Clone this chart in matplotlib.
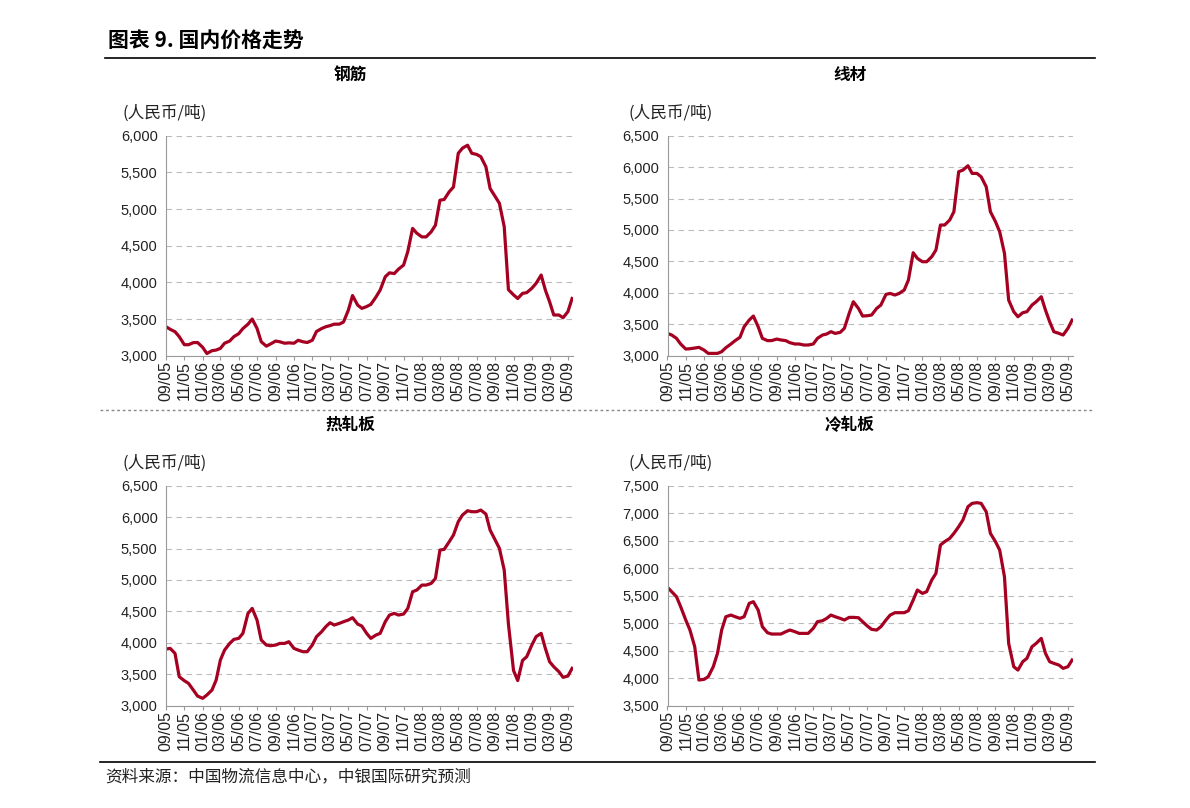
import pandas as pd
import numpy as np
import matplotlib
matplotlib.use('Agg')
import matplotlib.pyplot as plt
from matplotlib.lines import Line2D

plt.rcParams['font.family'] = ['Liberation Sans', 'Noto Sans CJK SC', 'DejaVu Sans']
CJK = ['Noto Sans CJK SC', 'DejaVu Sans']

# half-month sample dates, Sep 2005 .. May 2009
dates = pd.date_range('2005-09-01', '2009-05-15', freq='SMS')

# 钢筋
rebar = [3395, 3360, 3327, 3260, 3150, 3150, 3178, 3180, 3115, 3030,
         3068, 3077, 3100, 3170, 3200, 3260, 3300, 3370, 3430, 3500,
         3373, 3190, 3130, 3160, 3200, 3190, 3170, 3175, 3170, 3210,
         3190, 3180, 3210, 3330, 3370, 3395, 3410, 3430, 3430, 3460,
         3620, 3820, 3690, 3645, 3670, 3700, 3800, 3895, 4077, 4130,
         4120, 4180, 4236, 4420, 4736, 4670, 4620, 4620, 4690, 4780,
         5120, 5130, 5236, 5300, 5760, 5830, 5870, 5760, 5745, 5714,
         5577, 5280, 5170, 5077, 4760, 3900, 3830, 3780, 3850, 3860,
         3920, 3986, 4100, 3895, 3736, 3555, 3555, 3518, 3600, 3780]

# 线材
wire = [3355, 3329, 3276, 3186, 3106, 3111, 3122, 3133, 3090, 3037,
        3037, 3037, 3064, 3127, 3186, 3240, 3292, 3460, 3567, 3631,
        3460, 3276, 3240, 3240, 3265, 3250, 3240, 3207, 3186, 3186,
        3170, 3170, 3186, 3276, 3329, 3345, 3382, 3355, 3371, 3435,
        3673, 3859, 3753, 3631, 3636, 3647, 3753, 3806, 3975, 3991,
        3965, 3991, 4045, 4204, 4638, 4548, 4495, 4495, 4575, 4681,
        5079, 5079, 5158, 5291, 5927, 5953, 6022, 5900, 5900, 5847,
        5688, 5291, 5132, 4972, 4628, 3885, 3700, 3620, 3684, 3700,
        3806, 3859, 3938, 3726, 3541, 3382, 3355, 3329, 3435, 3567]

# 热轧板
hot_rolled = [3901, 3912, 3832, 3461, 3398, 3355, 3249, 3154, 3117, 3170,
              3249, 3408, 3726, 3885, 3991, 4055, 4071, 4151, 4469, 4548,
              4363, 4045, 3965, 3954, 3965, 3991, 3991, 4018, 3912, 3885,
              3859, 3859, 3965, 4098, 4177, 4257, 4320, 4283, 4310, 4336,
              4363, 4400, 4299, 4267, 4151, 4071, 4124, 4151, 4336, 4442,
              4469, 4442, 4458, 4548, 4813, 4840, 4919, 4919, 4946, 5025,
              5476, 5487, 5609, 5715, 5927, 6033, 6102, 6086, 6086, 6112,
              6049, 5794, 5635, 5503, 5158, 4300, 3560, 3400, 3720, 3780,
              3965, 4098, 4151, 3912, 3700, 3620, 3541, 3451, 3472, 3594]

# 冷轧板
cold_rolled = [5652, 5573, 5482, 5300, 5058, 4876, 4573, 3967, 3979, 4027,
               4209, 4452, 4876, 5118, 5148, 5118, 5088, 5118, 5361, 5391,
               5239, 4936, 4827, 4803, 4803, 4803, 4845, 4876, 4845, 4815,
               4815, 4815, 4906, 5027, 5045, 5088, 5148, 5118, 5088, 5058,
               5106, 5106, 5100, 5027, 4948, 4888, 4876, 4936, 5058, 5148,
               5191, 5191, 5191, 5227, 5421, 5603, 5542, 5573, 5785, 5906,
               6421, 6482, 6542, 6633, 6755, 6876, 7118, 7179, 7191, 7179,
               7027, 6633, 6482, 6330, 5845, 4633, 4209, 4148, 4300, 4361,
               4573, 4633, 4724, 4452, 4300, 4270, 4239, 4179, 4209, 4330]

titles = ['钢筋', '线材', '热轧板', '冷轧板']
series = [rebar, wire, hot_rolled, cold_rolled]
y_ranges = [(3000, 6000), (3000, 6500), (3000, 6500), (3500, 7500)]

tick_dates = pd.date_range('2005-09-01', '2009-05-01', freq='2MS')

W, H = 1190, 808
fig = plt.figure(figsize=(W / 100, H / 100), dpi=100)

# axes rectangles in pixels: left, top, right, bottom
rects = [(166, 135.7, 573, 355.7), (667.5, 135.7, 1073, 355.7),
         (166, 485.7, 573, 705.7), (667.5, 485.7, 1073, 705.7)]
red = '#A50021'

for i, (title, vals, (y0, y1), r) in enumerate(zip(titles, series, y_ranges, rects)):
    l, t, rr, b = r
    ax = fig.add_axes([l / W, 1 - b / H, (rr - l) / W, (b - t) / H])
    ax.plot(dates, vals, color=red, lw=2.3, solid_joinstyle='round')
    ax.set_xlim(pd.Timestamp('2005-09-01'), pd.Timestamp('2009-05-18'))
    ax.set_ylim(y0, y1)
    ax.set_yticks(np.arange(y0, y1 + 1, 500))
    ax.yaxis.set_major_formatter(matplotlib.ticker.FuncFormatter(lambda v, p: f'{int(v):,}'))
    ax.set_xticks(tick_dates)
    ax.set_xticklabels([d.strftime('%m/%y') for d in tick_dates], rotation=90, fontsize=11.5)
    ax.tick_params(axis='y', length=0, labelsize=10.5, pad=6, colors='#222222')
    ax.tick_params(axis='x', length=3, width=0.8, color='#999999', pad=1, labelcolor='#222222')
    ax.grid(axis='y', color='#bbbbbb', linestyle=(0, (5, 4)), lw=0.8)
    for s in ['top', 'right']:
        ax.spines[s].set_visible(False)
    for s in ['left', 'bottom']:
        ax.spines[s].set_color('#999999')
        ax.spines[s].set_linewidth(0.8)
    ax.set_axisbelow(True)

    cx = 350 if i % 2 == 0 else 850
    ty = 75 if i < 2 else 425
    fig.text(cx / W, 1 - ty / H, title, family=CJK, fontsize=12, fontweight='bold',
             ha='center', va='center')
    ux = 122 if i % 2 == 0 else 628
    uy = 113 if i < 2 else 463
    fig.text(ux / W, 1 - uy / H, '(人民币/吨)', family=CJK, fontsize=12,
             ha='left', va='center', color='#222222')

# header and footer
fig.text(108 / W, 1 - 40 / H, '图表 9. 国内价格走势', family=CJK, fontsize=15,
         fontweight='bold', ha='left', va='center')
fig.add_artist(Line2D([105 / W, 1095 / W], [1 - 58 / H] * 2, color='black', lw=1.2))
fig.add_artist(Line2D([100 / W, 1093 / W], [1 - 410 / H] * 2, color='#888888', lw=1.0,
                      linestyle=(0, (2, 2))))
fig.add_artist(Line2D([100 / W, 1095 / W], [1 - 762 / H] * 2, color='black', lw=1.2))
fig.text(105 / W, 1 - 777 / H, '资料来源：中国物流信息中心，中银国际研究预测', family=CJK,
         fontsize=12, style='italic', ha='left', va='center', color='#222222')

fig.savefig('out.png', dpi=100)
